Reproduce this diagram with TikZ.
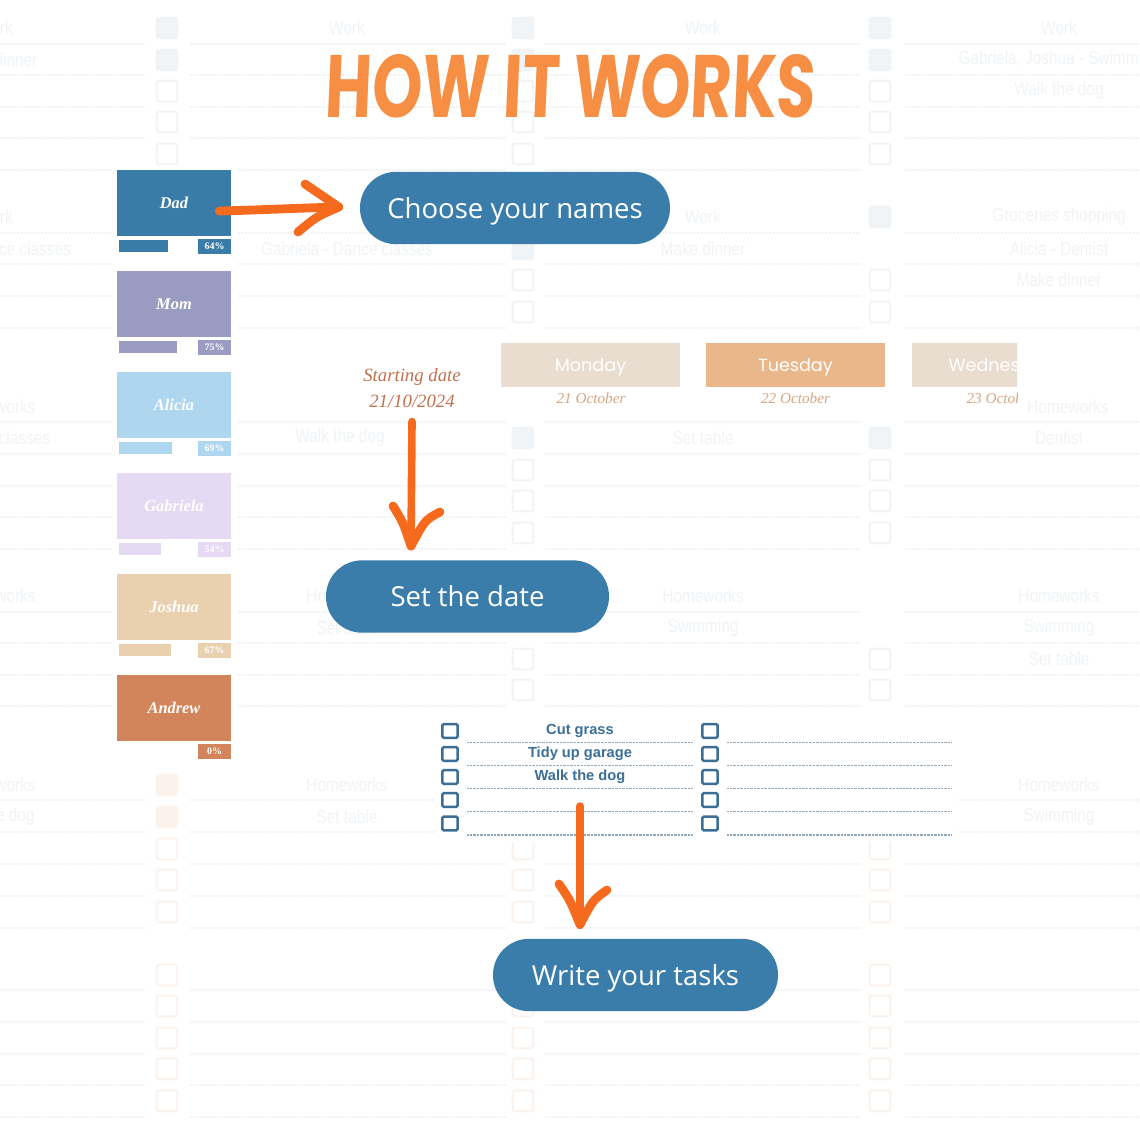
\documentclass[tikz,border=0pt]{standalone}
\usepackage{fontspec}
\usepackage{graphicx}
\usetikzlibrary{calc}
\setmainfont{Liberation Serif}
\newfontfamily\pillfont{Open Sans}
\newfontfamily\dayfont{Poppins}
\newfontfamily\taskfont{Liberation Sans}
\newfontfamily\titlefont{Poppins}[FakeSlant=0.06]
\newfontfamily\bgfont{Liberation Sans}
\definecolor{pillblue}{HTML}{3A7DAA}
\definecolor{dadc}{HTML}{3A7CA8}
\definecolor{momc}{HTML}{9A9BC0}
\definecolor{alic}{HTML}{AED6EE}
\definecolor{gabc}{HTML}{E6D9F3}
\definecolor{josc}{HTML}{E9D1AF}
\definecolor{andc}{HTML}{D2845A}
\definecolor{arrowc}{HTML}{F56A1C}
\definecolor{titlec}{HTML}{F68E44}
\definecolor{terra}{HTML}{C2714F}
\definecolor{datec}{HTML}{D9A583}
\definecolor{daylight}{HTML}{E9DDCF}
\definecolor{daytue}{HTML}{EAB78B}
\definecolor{taskc}{HTML}{3C6F97}
\definecolor{dotc}{HTML}{8FA7B8}
\definecolor{bgblue}{HTML}{F0F4F7}
\definecolor{bgorange}{HTML}{FCF2EC}
\definecolor{bgline}{HTML}{F3F4F6}
\begin{document}
\begin{tikzpicture}[x=0.03cm,y=-0.03cm,
  person/.style={rectangle, minimum width=3.42cm, minimum height=1.98cm, inner sep=0, text=white, font=\fontsize{14}{16}\selectfont\bfseries\itshape},
  pct/.style={rectangle, minimum width=0.99cm, minimum height=0.45cm, inner sep=0, text=white, font=\fontsize{8.5}{10}\selectfont\bfseries},
  pill/.style={rectangle, rounded corners=1.08cm, fill=pillblue, minimum height=2.17cm, inner sep=0, text depth=0pt, text=white, font=\pillfont\fontsize{23.5}{28}\selectfont},
  day/.style={rectangle, minimum width=5.37cm, minimum height=1.32cm, inner sep=0, text depth=0pt, text=white, font=\dayfont\fontsize{15}{18}\selectfont},
  datelab/.style={text=datec, font=\fontsize{13}{15}\selectfont\itshape, inner sep=0},
  startlab/.style={text=terra, font=\fontsize{16}{18}\selectfont\itshape, inner sep=0},
  chk/.style={draw=taskc, line width=2.2pt, rounded corners=1.2pt, minimum width=0.46cm, minimum height=0.41cm, inner sep=0},
  task/.style={text=taskc, font=\taskfont\bfseries\fontsize{12.5}{14}\selectfont, inner sep=0},
  dotline/.style={draw=dotc, line width=1.1pt, dash pattern=on 0.5pt off 0.7pt},
  handarrow/.style={draw=arrowc, line width=7.5pt, line cap=round, line join=round},
  bgbox/.style={draw=#1, line width=1.6pt, rounded corners=2pt, minimum size=0.62cm, inner sep=0},
  bgtext/.style={text=bgblue, font=\bgfont\fontsize{16}{18}\selectfont, inner sep=0}
]
\useasboundingbox (0,0) rectangle (1140,1140);
\fill[white] (0,0) rectangle (1140,1140);

% ---------- faint background planner ----------
\begin{scope}
\clip (0,0) rectangle (1140,1140);
\foreach \y in {44,75,107,138,170,233,264,296,328,422,454,486,517,549,612,643,675,706,800,832,864,896,928,990,1022,1054,1085,1117}{
  \draw[bgline, line width=1pt, dash pattern=on 0.6pt off 0.6pt] (0,\y) -- (145,\y) (190,\y) -- (505,\y) (545,\y) -- (860,\y) (905,\y) -- (1140,\y);
}
\foreach \y in {91,122,154,849,880,912,975,1006,1038,1069,1101}{
  \ifnum\y<800 \node[bgbox=bgblue] (bgl-\y) at (167,\y) {}; \else \node[bgbox=bgorange] (bgl-\y) at (167,\y) {}; \fi
}
\foreach \x in {523,880}{
  \foreach \y in {91,122,154,280,312,470,501,533,659,690}{
    \node[bgbox=bgblue] (bgb-\x-\y) at (\x,\y) {};
  }
  \foreach \y in {849,880,912,975,1006,1038,1069,1101}{
    \node[bgbox=bgorange] (bgo-\x-\y) at (\x,\y) {};
  }
}
\foreach \x/\y [count=\i] in {167/28,523/28,880/28,167/60,523/60,880/60,880/217,523/249,523/438,880/438}{
  \node[bgbox=bgblue, fill=bgblue] (bgc\i) at (\x,\y) {};
}
\foreach \x/\y [count=\i] in {167/785,167/817}{
  \node[bgbox=bgorange, fill=bgorange] (bgd\i) at (\x,\y) {};
}
\foreach \x/\y/\t [count=\i] in {
  -5/28/Work, 347/28/Work, 703/28/Work, 1059/28/Work,
  -5/60/Make dinner, 1059/60/{Gabriela, Joshua - Swimming}, 1059/91/Walk the dog,
  -5/217/Work, 703/217/Work, 1059/217/Groceries shopping,
  -15/249/Gabriela - Dance classes, 347/249/Gabriela - Dance classes, 703/249/Make dinner, 1059/249/Alicia - Dentist,
  1059/280/Make dinner,
  -5/407/Homeworks, 1068/407/Homeworks,
  0/438/Dance classes, 340/438/Walk the dog, 703/438/Set table, 1059/438/Dentist,
  -5/596/Homeworks, 347/596/Homeworks, 703/596/Homeworks, 1059/596/Homeworks,
  347/628/Set table, 703/628/Swimming, 1059/628/Swimming, 1059/659/Set table,
  -5/785/Homeworks, 347/785/Homeworks, 1059/785/Homeworks,
  -10/817/Walk the dog, 347/817/Set table, 1059/817/Swimming}{
  \node[bgtext] (bgt\i) at (\x,\y) {\scalebox{0.82}[1]{\t}};
}
\end{scope}

% white ground behind the foreground panels
\fill[white] (112,165) rectangle (237,760);
\fill[white] (496,338) rectangle (1018,410);

% ---------- title ----------
\node[inner sep=0, text=titlec] (title) at (570,86.5) {\resizebox{14.7cm}{1.89cm}{\titlefont\bfseries HOW IT WORKS}};

% ---------- people ----------
\foreach \n/\lab/\c/\y/\b/\p in {dad/Dad/dadc/203/168/64, mom/Mom/momc/304/177/75, ali/Alicia/alic/405/172/69, gab/Gabriela/gabc/506/161/54, jos/Joshua/josc/607/171/67}{
  \node[person, fill=\c] (\n) at (174,\y) {\lab};
  \fill[\c] (119,{\y+37}) rectangle (\b,{\y+49});
  \node[pct, fill=\c] (\n-pct) at (214.5,{\y+43.5}) {\p\%};
}
\node[person, fill=andc] (and) at (174,708) {Andrew};
\node[pct, fill=andc] (and-pct) at (214.5,751.5) {0\%};

% ---------- pills ----------
\node[pill, minimum width=9.3cm] (choose) at (515,208) {Choose your names};
\node[pill, minimum width=8.49cm] (setdate) at (467.5,596.5) {Set the date};
\node[pill, minimum width=8.55cm] (write) at (635.5,975) {Write your tasks};

% ---------- starting date & days ----------
\node[startlab] (start) at (412,377) {Starting date};
\node[startlab] (sdate) at (412,401) {21/10/2024};
\node[day, fill=daylight] (mon) at (590.5,365) {Monday};
\node[datelab] (mond) at (591,398) {21 October};
\node[day, fill=daytue] (tue) at (795.5,365) {Tuesday};
\node[datelab] (tued) at (795.5,398) {22 October};
\begin{scope}
  \clip (900,330) rectangle (1017,420);
  \node[day, fill=daylight] (wed) at (1001,365) {Wednesday};
  \node[datelab] (wedd) at (1001,398) {23 October};
\end{scope}

% ---------- checklist ----------
\fill[white] (436,718) rectangle (958,842);
\foreach \y [count=\i] in {731,754,777,800,823.5}{
  \node[chk] (cl\i) at (450,\y) {};
  \node[chk] (cr\i) at (710,\y) {};
  \draw[dotline] (467,{\y+11.5}) -- (692,{\y+11.5});
  \draw[dotline] (727,{\y+11.5}) -- (951,{\y+11.5});
}
\node[task] (t1) at (580,731) {Cut grass};
\node[task] (t2) at (580,754) {Tidy up garage};
\node[task] (t3) at (580,777) {Walk the dog};

% ---------- hand-drawn arrows ----------
\coordinate (a1s) at ($(dad.east)+(-12,8)$);
\coordinate (a1t) at ($(choose.west)+(-21,-1)$);
\draw[handarrow] (a1s) .. controls (260,210) and (300,208) .. (a1t);
\draw[handarrow] (305,184) .. controls (322,196) .. (a1t);
\draw[handarrow] (a1t) .. controls (316,217) .. (298,232);

\coordinate (a2s) at ($(sdate.south)+(0,14)$);
\coordinate (a2t) at ($(setdate.north)+(-56.5,-14)$);
\draw[handarrow, line width=6.5pt] (a2s) -- (a2t);
\draw[handarrow] (393,506) .. controls (403,522) .. (a2t);
\draw[handarrow] (a2t) .. controls (425,520) .. (440,512);

\coordinate (a3s) at ($(t3.south)+(0,22)$);
\coordinate (a3t) at ($(write.north)+(-55.5,-14)$);
\draw[handarrow, line width=6.5pt] (a3s) -- (a3t);
\draw[handarrow] (559,884) .. controls (570,900) .. (a3t);
\draw[handarrow] (a3t) .. controls (593,900) .. (607,890);
\end{tikzpicture}
\end{document}
